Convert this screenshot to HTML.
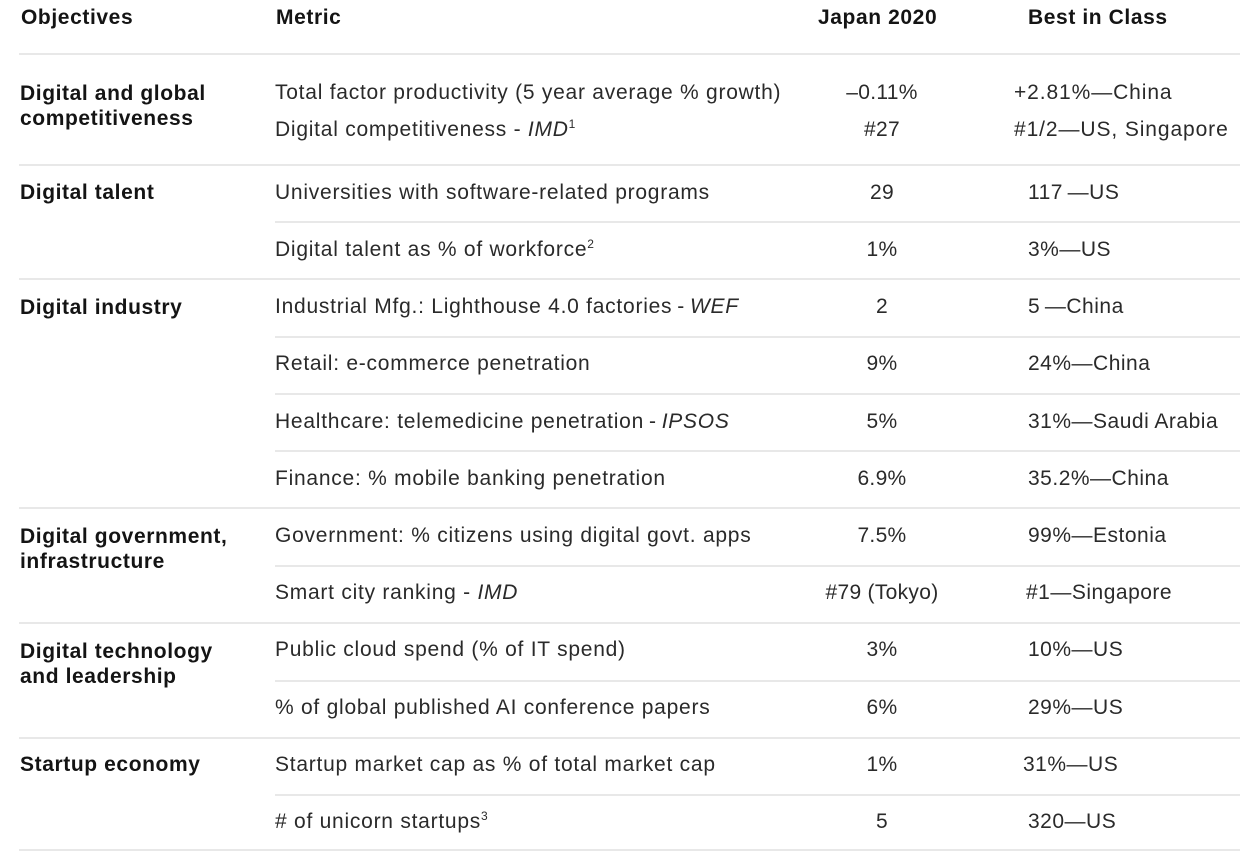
<!DOCTYPE html>
<html>
<head>
<meta charset="utf-8">
<style>
  html, body { margin:0; padding:0; background:#fff; }
  body { width:1257px; height:857px; position:relative; overflow:hidden;
         font-family:"Liberation Sans", Arial, sans-serif; }
  .t { position:absolute; white-space:nowrap; font-size:21px; line-height:24px; color:#2a2a2a; }
  .m { letter-spacing:0.75px; left:275px; }
  .j { left:782px; width:200px; text-align:center; letter-spacing:0.3px; }
  .b { left:1028px; letter-spacing:0.5px; }
  .h { font-weight:bold; color:#141414; letter-spacing:0.6px; }
  .lab { position:absolute; left:20px; font-weight:bold; color:#141414; font-size:21px;
         line-height:25px; letter-spacing:0.6px; white-space:nowrap; }
  .ln { position:absolute; height:2px; background:#e8e8e8; right:17px; }
  .full { left:19px; }
  .part { left:275px; }
  i { font-style:italic; }
  sup { font-size:12px; line-height:0; vertical-align:8px; }
</style>
</head>
<body>
  <!-- header -->
  <div class="t h" style="left:21px;top:5.7px;">Objectives</div>
  <div class="t h" style="left:276px;top:5.7px;">Metric</div>
  <div class="t h" style="left:818px;top:5.7px;">Japan 2020</div>
  <div class="t h" style="left:1028px;top:5.7px;">Best in Class</div>

  <!-- lines -->
  <div class="ln full" style="top:53px;"></div>
  <div class="ln full" style="top:164px;"></div>
  <div class="ln part" style="top:221px;"></div>
  <div class="ln full" style="top:278px;"></div>
  <div class="ln part" style="top:336px;"></div>
  <div class="ln part" style="top:393px;"></div>
  <div class="ln part" style="top:450px;"></div>
  <div class="ln full" style="top:507px;"></div>
  <div class="ln part" style="top:565px;"></div>
  <div class="ln full" style="top:622px;"></div>
  <div class="ln part" style="top:680px;"></div>
  <div class="ln full" style="top:737px;"></div>
  <div class="ln part" style="top:794px;"></div>
  <div class="ln full" style="top:849px;"></div>

  <!-- labels -->
  <div class="lab" style="top:81.2px;">Digital and global<br>competitiveness</div>
  <div class="lab" style="top:180.2px;">Digital talent</div>
  <div class="lab" style="top:294.6px;">Digital industry</div>
  <div class="lab" style="top:524.2px;">Digital government,<br>infrastructure</div>
  <div class="lab" style="top:638.8px;">Digital technology<br>and leadership</div>
  <div class="lab" style="top:752.2px;">Startup economy</div>

  <!-- group 1 -->
  <div class="t m" style="top:80.7px;">Total factor productivity (5 year average % growth)</div>
  <div class="t j" style="top:80.7px;">–0.11%</div>
  <div class="t b" style="top:80.7px;left:1014px;letter-spacing:0.9px;">+2.81%—China</div>

  <div class="t m" style="top:117.7px;">Digital competitiveness - <i>IMD</i><sup>1</sup></div>
  <div class="t j" style="top:117.7px;">#27</div>
  <div class="t b" style="top:117.7px;left:1014px;letter-spacing:0.9px;">#1/2—US, Singapore</div>

  <!-- rows -->
  <div class="t m" style="top:180.7px;">Universities with software-related programs</div>
  <div class="t j" style="top:180.7px;">29</div>
  <div class="t b" style="top:180.7px;">117&#8201;—US</div>

  <div class="t m" style="top:237.9px;">Digital talent as % of workforce<sup>2</sup></div>
  <div class="t j" style="top:237.9px;">1%</div>
  <div class="t b" style="top:237.9px;">3%—US</div>

  <div class="t m" style="top:295.1px;">Industrial Mfg.: Lighthouse 4.0 factories&#8201;-&#8201;<i>WEF</i></div>
  <div class="t j" style="top:295.1px;">2</div>
  <div class="t b" style="top:295.1px;">5&#8201;—China</div>

  <div class="t m" style="top:352.3px;">Retail: e-commerce penetration</div>
  <div class="t j" style="top:352.3px;">9%</div>
  <div class="t b" style="top:352.3px;">24%—China</div>

  <div class="t m" style="top:409.5px;">Healthcare: telemedicine penetration&#8201;-&#8201;<i>IPSOS</i></div>
  <div class="t j" style="top:409.5px;">5%</div>
  <div class="t b" style="top:409.5px;">31%—Saudi Arabia</div>

  <div class="t m" style="top:466.7px;">Finance: % mobile banking penetration</div>
  <div class="t j" style="top:466.7px;">6.9%</div>
  <div class="t b" style="top:466.7px;">35.2%—China</div>

  <div class="t m" style="top:523.9px;">Government: % citizens using digital govt. apps</div>
  <div class="t j" style="top:523.9px;">7.5%</div>
  <div class="t b" style="top:523.9px;">99%—Estonia</div>

  <div class="t m" style="top:581.1px;">Smart city ranking - <i>IMD</i></div>
  <div class="t j" style="top:581.1px;">#79 (Tokyo)</div>
  <div class="t b" style="top:581.1px;left:1026px;">#1—Singapore</div>

  <div class="t m" style="top:638.3px;">Public cloud spend (% of IT spend)</div>
  <div class="t j" style="top:638.3px;">3%</div>
  <div class="t b" style="top:638.3px;">10%—US</div>

  <div class="t m" style="top:695.5px;">% of global published AI conference papers</div>
  <div class="t j" style="top:695.5px;">6%</div>
  <div class="t b" style="top:695.5px;">29%—US</div>

  <div class="t m" style="top:752.7px;">Startup market cap as % of total market cap</div>
  <div class="t j" style="top:752.7px;">1%</div>
  <div class="t b" style="top:752.7px;left:1023px;">31%—US</div>

  <div class="t m" style="top:809.9px;"># of unicorn startups<sup>3</sup></div>
  <div class="t j" style="top:809.9px;">5</div>
  <div class="t b" style="top:809.9px;">320—US</div>
</body>
</html>
